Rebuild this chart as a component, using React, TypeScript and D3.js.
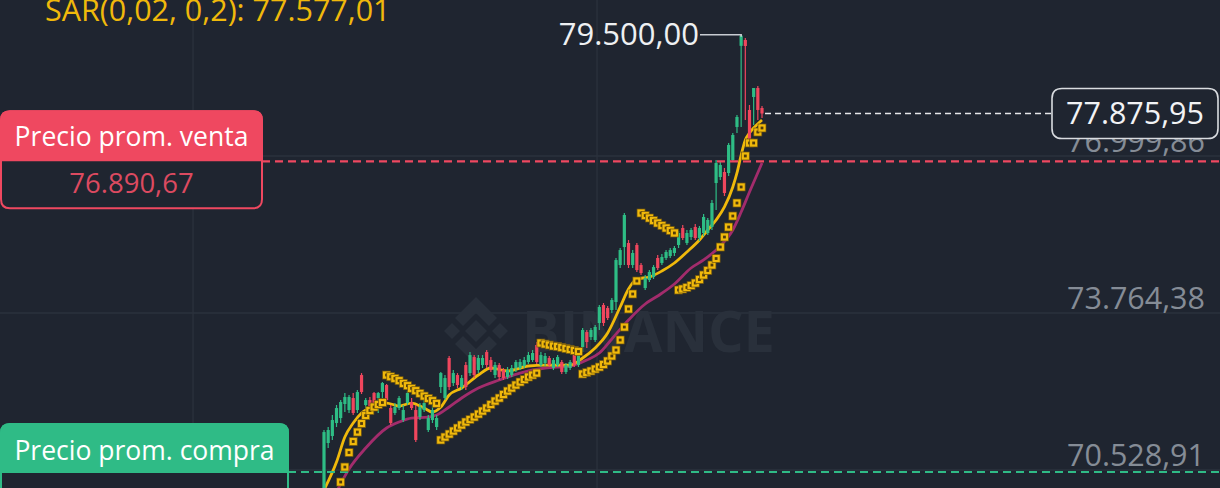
import React from "react";
import * as d3 from "d3";

const W = 1220;
const H = 488;

// ---- data ----
const candleOpen = [69910,71085,71229,71497,71600,71889,71765,72012,71765,72486,71868,71971,72115,72012,72136,72280,71806,71703,71806,71559,71909,71930,71765,71621,71765,71353,71559,71415,72239,72012,72837,72321,72486,72239,72692,72527,72857,72589,72692,72960,72795,72486,72692,72589,72445,72486,72631,72631,72672,72754,72795,73105,72692,72734,72837,72631,72692,72754,72548,72631,72898,72692,73063,73372,73269,73208,73558,73929,73867,73826,73991,74753,75124,75207,74753,75166,74753,74279,74444,74506,74898,74795,74898,74939,75001,75166,75516,75207,75330,75537,75310,75413,75413,75537,76443,76567,76670,76649,76917,77598,79270,79391,77948,78216,78401,77989];
const candleHigh = [71353,71415,71662,71868,71971,72115,72074,72115,72177,72527,72012,72033,72136,72136,72342,72301,71868,71909,72053,71868,72156,72012,71868,71909,71971,71662,71868,71662,72548,72486,72878,72589,72527,72486,72754,72960,72898,72898,72898,73001,72857,72754,72734,72631,72651,72692,72795,72816,72857,72960,73001,73166,72960,72940,72878,72837,72898,72795,72734,72795,72960,72940,73455,73414,73455,73517,73929,73970,73908,74073,74898,75104,75825,75269,75062,75207,74795,74547,74650,74753,74959,74980,75062,75104,75145,75454,75578,75475,75516,75598,75557,75804,75722,76093,76917,76876,76753,77268,77474,77845,79500,79432,78051,78401,78443,78030];
const candleLow = [69807,70982,71147,71415,71497,71724,71703,71662,71703,72095,71806,71765,71806,71703,72012,71930,71456,71662,71765,71518,71868,71765,71105,71559,71724,71311,71497,71353,72115,71971,72177,72260,72218,72177,72177,72466,72424,72527,72631,72631,72548,72424,72383,72383,72404,72445,72548,72589,72631,72713,72754,72713,72651,72672,72651,72589,72651,72507,72507,72589,72651,72651,72960,73043,73208,73166,73414,73496,73620,73764,73826,74692,74753,74692,74692,74609,74547,74238,74403,74465,74650,74753,74856,74898,74939,75104,75269,75166,75269,75269,75248,75351,75372,75475,75887,76505,76175,76588,76876,77474,77598,77742,77288,77639,77742,77783];
const candleClose = [71311,71353,71559,71806,71930,72033,72033,71703,72136,72136,71971,71827,71868,72115,72321,71971,71497,71827,72012,71765,72115,71806,71147,71827,71909,71600,71765,71600,72527,72424,72239,72527,72280,72424,72239,72898,72486,72837,72837,72692,72589,72692,72445,72424,72589,72631,72754,72754,72795,72898,72940,72754,72898,72878,72692,72795,72857,72548,72692,72754,72692,72898,73414,73166,73414,73476,73888,73558,73661,74032,74856,75062,75784,74753,75001,74650,74588,74485,74609,74712,74692,74918,75021,75062,75104,75413,75310,75413,75475,75310,75516,75743,75681,76031,76856,76814,76237,77227,77433,77804,79480,79267,77330,78401,77948,77875.95];

const sarValues: (number | null)[] = [null,null,null,
  69972,70281,70590,70889,71116,71311,71487,71651,71755,71827,71878,71919,
  72486,72451,72418,72369,72315,72266,72212,72163,72109,72053,72006,71956,71903,
  71147,71208,71270,71332,71394,71456,71518,71569,71621,71682,71744,71806,71878,71950,72012,72084,72156,72218,72280,72342,72393,72445,72486,72527,
  73146,73125,73105,73084,73074,73053,73032,73012,72991,72971,
  72507,72538,72569,72610,72651,72703,72775,72878,73001,73208,73475,73847,74156,74424,
  75825,75773,75722,75670,75619,75567,75516,75464,75413,
  74238,74259,74290,74331,74382,74454,74547,74640,74753,74887,75124,75330,75536,75763,76031,76361,77000,77268,77268,77494,77577.01];

const maFastIdx = [0,3,5,7,9,12,15,18,21,24,26,28,30,33,37,40,44,49,53,59,62,65,68,71,73,75,78,81,84,87,90,92,94,96,98,99,100,101,102,103,105];
const maFastVal = [70117,70693,71209,71497,71703,71847,71909,71847,71909,71806,71723,71827,72074,72218,72486,72631,72569,72672,72692,72692,72837,73043,73352,73888,74259,74465,74506,74630,74795,75022,75269,75475,75681,75949,76361,76650,77021,77330,77474,77577,77742];

const maSlowIdx = [3,6,10,15,18,21,25,27,30,33,37,42,47,53,59,63,66,69,73,77,80,84,88,91,95,98,100,102,105];
const maSlowVal = [70075,70549,70982,71394,71518,71600,71620,71662,71827,72012,72218,72383,72527,72631,72672,72796,72940,73229,73620,73950,74115,74362,74692,74857,75145,75475,75846,76258,76856];

const yTicks = [76999.86, 73764.38, 70528.91];
const timeGridIdx = [-31.4, 65.45];

const avgSellPrice = 76890.67;
const avgBuyPrice = 70487.4;
const lastPrice = 77875.95;
const sarLast = 77577.01;
const highPrice = 79500;
const highIdx = 100;

// ---- styles ----
const BG = "#1f2530";
const GRID = "#2b323d";
const UP = "#2ebd85";
const DOWN = "#f0465d";
const SAR_C = "#f0b90b";
const MA_FAST = "#f0b90b";
const MA_SLOW = "#a22c6c";
const RED_LABEL = "#ef4860";
const GREEN_LABEL = "#2fbb86";
const AXIS_TXT = "#858c96";
const FONT = "'Open Sans', 'Noto Sans', sans-serif";

const loc = d3.formatLocale({ decimal: ",", thousands: ".", grouping: [3], currency: ["", ""] });
const fmt = loc.format(",.2f");

function roundedRect(x: number, y: number, w: number, h: number, r: number) {
  return `M${x + r},${y}H${x + w - r}Q${x + w},${y} ${x + w},${y + r}V${y + h - r}Q${x + w},${y + h} ${x + w - r},${y + h}H${x + r}Q${x},${y + h} ${x},${y + h - r}V${y + r}Q${x},${y} ${x + r},${y}Z`;
}
function topRounded(x: number, y: number, w: number, h: number, r: number) {
  return `M${x},${y + r}Q${x},${y} ${x + r},${y}H${x + w - r}Q${x + w},${y} ${x + w},${y + r}V${y + h}H${x}Z`;
}

export default function App() {
  const x = d3.scaleLinear().domain([0, 105]).range([324, 762]);
  const y = d3.scaleLinear().domain([70528.91, 76999.86]).range([470, 156]);
  const bodyW = 3.2;

  const fastLine = d3
    .line<number>()
    .x((_, i) => x(maFastIdx[i]))
    .y((d) => y(d))
    .curve(d3.curveMonotoneX)(maFastVal) as string;
  const slowLine = d3
    .line<number>()
    .x((_, i) => x(maSlowIdx[i]))
    .y((d) => y(d))
    .curve(d3.curveMonotoneX)(maSlowVal) as string;

  const sellY = y(avgSellPrice);
  const buyY = y(avgBuyPrice);
  const lastY = y(lastPrice);
  const highY = y(highPrice);
  const lastX = x(candleClose.length - 1);

  const sellBox = { x: 1, y: sellY - 50, w: 261, head: 49, h: 97 };
  const buyBox = { x: 1, y: buyY - 48, w: 287, head: 48, h: 110 };
  const sq = 8;

  return (
    <svg
      width={W}
      height={H}
      viewBox={`0 0 ${W} ${H}`}
      style={{ position: "absolute", left: 0, top: 0, display: "block", fontFamily: FONT }}
    >
      <defs>
        <clipPath id="plot">
          <rect x={0} y={0} width={W} height={H} />
        </clipPath>
      </defs>
      <rect x={0} y={0} width={W} height={H} fill={BG} />

      {/* grid */}
      {yTicks.map((t) => (
        <line key={"gy" + t} x1={0} x2={W} y1={y(t)} y2={y(t)} stroke={GRID} strokeWidth={1.3} />
      ))}
      {timeGridIdx.map((t) => (
        <line key={"gx" + t} x1={x(t)} x2={x(t)} y1={0} y2={H} stroke={GRID} strokeWidth={1.3} />
      ))}

      {/* watermark */}
      <g transform="translate(476,331)" fill="#29303b">
        <polygon points="0,-11 11,0 0,11 -11,0" />
        <polygon points="-24,-8 -16,0 -24,8 -32,0" />
        <polygon points="24,-8 32,0 24,8 16,0" />
        <polygon points="0,-34 21,-13 13,-5 0,-18 -13,-5 -21,-13" />
        <polygon points="0,34 21,13 13,5 0,18 -13,5 -21,13" />
      </g>
      <text x={522} y={352} fontSize={58} fontWeight={700} fill="#29303b" textLength={253} lengthAdjust="spacingAndGlyphs">
        BINANCE
      </text>

      <g clipPath="url(#plot)">
        {/* moving averages */}
        <path d={slowLine} fill="none" stroke={MA_SLOW} strokeWidth={2.8} />
        <path d={fastLine} fill="none" stroke={MA_FAST} strokeWidth={2.8} />

        {/* candles */}
        {candleClose.map((c, i) => {
          const o = candleOpen[i];
          const up = c >= o;
          const col = up ? UP : DOWN;
          const cx = x(i);
          const top = y(Math.max(o, c));
          const bot = y(Math.min(o, c));
          return (
            <g key={"c" + i}>
              <line x1={cx} x2={cx} y1={y(candleHigh[i])} y2={y(candleLow[i])} stroke={col} strokeWidth={1.2} />
              <rect x={cx - bodyW / 2} y={top} width={bodyW} height={Math.max(1.2, bot - top)} fill={col} />
            </g>
          );
        })}

        {/* average price lines */}
        <line x1={sellBox.x + sellBox.w} x2={W} y1={sellY} y2={sellY} stroke={RED_LABEL} strokeWidth={2.2} strokeDasharray="8 5" />
        <line x1={buyBox.x + buyBox.w} x2={W} y1={buyY} y2={buyY} stroke={GREEN_LABEL} strokeWidth={2.2} strokeDasharray="8 5" />

        {/* SAR */}
        {sarValues.map((s, i) =>
          s == null ? null : (
            <g key={"s" + i}>
              <rect x={x(i) - sq / 2} y={y(s) - sq / 2} width={sq} height={sq} fill={SAR_C} stroke="#6b5210" strokeWidth={0.7} />
              <rect x={x(i) - 1.4} y={y(s) - 1.4} width={2.8} height={2.8} fill="#4e3a0c" />
            </g>
          )
        )}

        {/* last price line */}
        <line x1={lastX + 3} x2={1052} y1={lastY} y2={lastY} stroke="#e6e8ea" strokeWidth={1.4} strokeDasharray="6 4" />

        {/* high marker */}
        <path d={`M700,${highY}H${x(highIdx)}V${highY + 2}`} fill="none" stroke="#c8ccd2" strokeWidth={1.6} />
        <text x={699} y={highY + 10.5} textAnchor="end" fontSize={31} fill="#eef0f2">
          {fmt(highPrice)}
        </text>
      </g>

      {/* y axis labels */}
      {yTicks.map((t) => (
        <text key={"yt" + t} x={1205} y={y(t) - 4} textAnchor="end" fontSize={30.5} fill={AXIS_TXT}>
          {fmt(t)}
        </text>
      ))}

      {/* current price box */}
      <path d={roundedRect(1052, lastY - 25, 166, 50, 10)} fill={BG} stroke="#d9dce0" strokeWidth={1.6} />
      <text x={1135} y={lastY + 11} textAnchor="middle" fontSize={30.5} fill="#f2f3f5">
        {fmt(lastPrice)}
      </text>

      {/* SAR legend */}
      <text x={45} y={21} fontSize={30.5} fill={SAR_C}>
        {`SAR(0,02, 0,2): ${fmt(sarLast)}`}
      </text>

      {/* average sell label */}
      <path d={roundedRect(sellBox.x, sellBox.y, sellBox.w, sellBox.h, 9)} fill={BG} stroke={RED_LABEL} strokeWidth={2} />
      <path d={topRounded(sellBox.x, sellBox.y, sellBox.w, sellBox.head, 9)} fill={RED_LABEL} stroke={RED_LABEL} strokeWidth={2} />
      <text x={sellBox.x + sellBox.w / 2} y={sellBox.y + 35} textAnchor="middle" fontSize={26.5} fill="#ffffff">
        Precio prom. venta
      </text>
      <text x={sellBox.x + sellBox.w / 2} y={sellBox.y + 82} textAnchor="middle" fontSize={27.5} fill="#dc4a60">
        {fmt(avgSellPrice)}
      </text>

      {/* average buy label */}
      <path d={roundedRect(buyBox.x, buyBox.y, buyBox.w, buyBox.h, 9)} fill={BG} stroke={GREEN_LABEL} strokeWidth={2} />
      <path d={topRounded(buyBox.x, buyBox.y, buyBox.w, buyBox.head, 9)} fill={GREEN_LABEL} stroke={GREEN_LABEL} strokeWidth={2} />
      <text x={buyBox.x + buyBox.w / 2} y={buyBox.y + 36} textAnchor="middle" fontSize={26.5} fill="#ffffff">
        Precio prom. compra
      </text>
    </svg>
  );
}
